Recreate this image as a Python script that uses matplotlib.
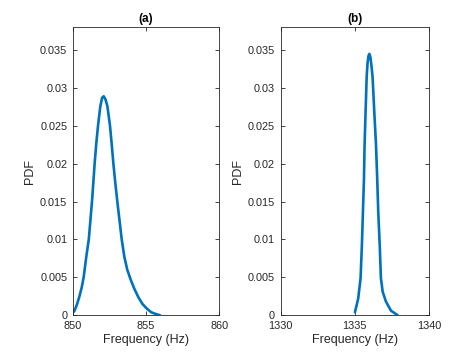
import matplotlib
matplotlib.use("Agg")
import matplotlib.pyplot as plt

# panel (a) pdf
freq_a = [850.0, 850.13, 850.28, 850.44, 850.6, 850.74, 850.92, 851.09, 851.2, 851.31,
          851.4, 851.49, 851.6, 851.72, 851.88, 852.0, 852.11, 852.23, 852.36, 852.54,
          852.66, 852.77, 852.9, 853.04, 853.19, 853.34, 853.52, 853.72, 853.95, 854.2,
          854.47, 854.75, 855.04, 855.35, 855.61, 855.95]
pdf_a = [0.0003, 0.00066, 0.0014, 0.0024, 0.0036, 0.005, 0.0077, 0.01, 0.0125, 0.015,
         0.0175, 0.02, 0.0226, 0.025, 0.0276, 0.0287, 0.0289, 0.0285, 0.0276, 0.025,
         0.0225, 0.02, 0.0175, 0.015, 0.0125, 0.01, 0.0077, 0.006, 0.0047, 0.0035,
         0.0024, 0.0015, 0.0009, 0.0004, 0.0002, 0.0]

# panel (b)
freq_b = [1335.01, 1335.23, 1335.39, 1335.48, 1335.55, 1335.62, 1335.66, 1335.73, 1335.8,
          1335.86, 1335.92, 1335.98, 1336.05, 1336.12, 1336.2, 1336.31, 1336.43, 1336.51,
          1336.58, 1336.68, 1336.76, 1336.88, 1337.1, 1337.44, 1337.89]
pdf_b = [0.0004, 0.0022, 0.0049, 0.0093, 0.0137, 0.0181, 0.0225, 0.027, 0.0314,
         0.0333, 0.0342, 0.0345, 0.0341, 0.033, 0.0314, 0.027, 0.0225, 0.0181,
         0.0137, 0.0093, 0.0049, 0.0031, 0.0018, 0.0006, 0.0]

xlims = [(850, 860), (1330, 1340)]
xticks = [[850, 855, 860], [1330, 1335, 1340]]
yticks = [0, 0.005, 0.01, 0.015, 0.02, 0.025, 0.03, 0.035]
ytick_labels = ['0', '0.005', '0.01', '0.015', '0.02', '0.025', '0.03', '0.035']
titles = ['(a)', '(b)']

plt.rcParams['font.family'] = ['Liberation Sans', 'DejaVu Sans']
grey = '#262626'

fig = plt.figure(figsize=(4.74, 3.55), dpi=100)
ax1 = fig.add_axes([0.1536, 0.112, 0.309, 0.811])
ax2 = fig.add_axes([0.592, 0.112, 0.313, 0.811])

for ax, x, y, xl, xt, t in zip([ax1, ax2], [freq_a, freq_b], [pdf_a, pdf_b], xlims, xticks, titles):
    ax.plot(x, y, color='#0072BD', linewidth=1.9, solid_capstyle='round', solid_joinstyle='round')
    ax.set_xlim(xl)
    ax.set_ylim(0, 0.038)
    ax.set_xticks(xt)
    ax.set_xticklabels([str(v) for v in xt])
    ax.set_yticks(yticks)
    ax.set_yticklabels(ytick_labels)
    ax.tick_params(direction='in', top=True, right=True, length=3, width=0.6,
                   labelsize=7.8, colors=grey, pad=4)
    for s in ax.spines.values():
        s.set_color(grey)
        s.set_linewidth(0.6)
    ax.set_xlabel('Frequency (Hz)', fontsize=9, color=grey, labelpad=2)
    ax.set_ylabel('PDF', fontsize=9, color=grey, labelpad=3)
    ax.set_title(t, fontsize=8.5, fontweight='bold', color='black', pad=4)

fig.savefig('out.png', dpi=100)
